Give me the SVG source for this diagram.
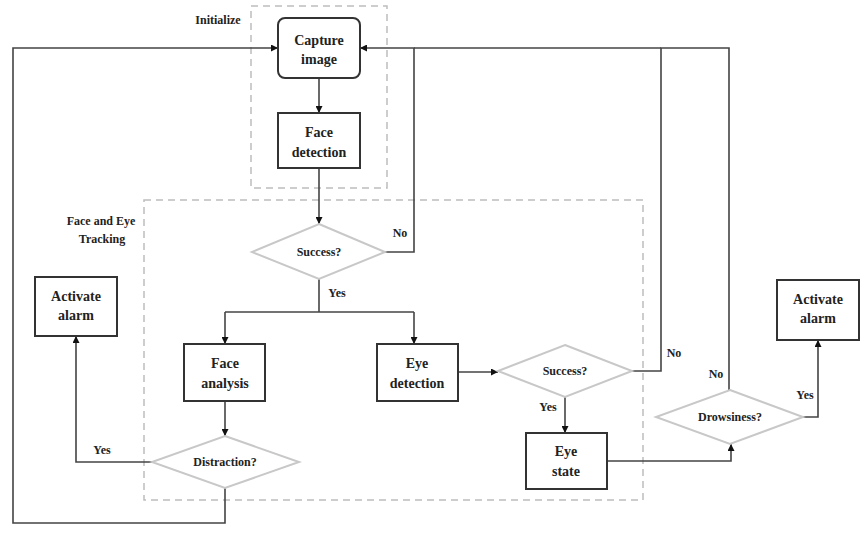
<svg xmlns="http://www.w3.org/2000/svg" width="866" height="538" viewBox="0 0 866 538">
<style>
text{font-family:"Liberation Serif","Times New Roman",serif;font-weight:bold;fill:#222;text-anchor:middle}
.box{fill:#fff;stroke:#333;stroke-width:2}
.dia{fill:#fff;stroke:#c8c8c8;stroke-width:2}
.grp{fill:none;stroke:#bdbdbd;stroke-width:1.5;stroke-dasharray:7,5}
.ln{fill:none;stroke:#444;stroke-width:1.6}
.t14{font-size:14px}
.t12{font-size:12px}
.lab{font-size:12px}
</style>
<defs>
<marker id="ah" viewBox="0 0 10 10" refX="10" refY="5" markerWidth="7" markerHeight="7" markerUnits="userSpaceOnUse" orient="auto">
<path d="M0,0 L10,5 L0,10 z" fill="#111"/>
</marker>
</defs>
<rect width="866" height="538" fill="#fff"/>
<g id="groups">
<rect class="grp" x="251" y="6" width="136" height="182"/>
<text class="lab" x="218" y="24">Initialize</text>
<rect class="grp" x="144" y="200" width="499" height="300"/>
<text class="lab" x="101" y="225">Face and Eye</text>
<text class="lab" x="102" y="243">Tracking</text>
</g>
<g id="connectors">
<path class="ln" d="M319,78 V113" marker-end="url(#ah)"/>
<path class="ln" d="M319,168 V224" marker-end="url(#ah)"/>
<path class="ln" d="M385,252 H414 V48 H360" marker-end="url(#ah)"/>
<path class="ln" d="M319,279 V312"/>
<path class="ln" d="M225,312 H414"/>
<path class="ln" d="M225,312 V344" marker-end="url(#ah)"/>
<path class="ln" d="M414,312 V344" marker-end="url(#ah)"/>
<path class="ln" d="M225,401 V436" marker-end="url(#ah)"/>
<path class="ln" d="M152,462 H76 V336" marker-end="url(#ah)"/>
<path class="ln" d="M225,488 V523 H13 V48 H278" marker-end="url(#ah)"/>
<path class="ln" d="M458,372 H498" marker-end="url(#ah)"/>
<path class="ln" d="M632,371 H661 V48 H729 V390"/>
<path class="ln" d="M661,48 H414"/>
<path class="ln" d="M565,397 V433" marker-end="url(#ah)"/>
<path class="ln" d="M607,461 H731 V444" marker-end="url(#ah)"/>
<path class="ln" d="M803,417 H818 V340" marker-end="url(#ah)"/>
<text class="lab" x="400" y="237">No</text>
<text class="lab" x="337" y="297">Yes</text>
<text class="lab" x="102" y="454">Yes</text>
<text class="lab" x="674" y="357">No</text>
<text class="lab" x="548" y="411">Yes</text>
<text class="lab" x="716" y="378">No</text>
<text class="lab" x="805" y="399">Yes</text>
</g>
<g id="capture">
<rect class="box" x="278" y="18" width="82" height="60" rx="7"/>
<text class="t14" x="319" y="45">Capture</text>
<text class="t14" x="319" y="64">image</text>
</g>
<g id="face-detection">
<rect class="box" x="278" y="113" width="82" height="55"/>
<text class="t14" x="319" y="137">Face</text>
<text class="t14" x="319" y="157">detection</text>
</g>
<g id="success1">
<polygon class="dia" points="319,224 385,252 319,279 252,252"/>
<text class="t12" x="319" y="256">Success?</text>
</g>
<g id="face-analysis">
<rect class="box" x="184" y="344" width="81" height="57"/>
<text class="t14" x="225" y="368">Face</text>
<text class="t14" x="225" y="388">analysis</text>
</g>
<g id="eye-detection">
<rect class="box" x="377" y="344" width="81" height="57"/>
<text class="t14" x="417" y="368">Eye</text>
<text class="t14" x="417" y="388">detection</text>
</g>
<g id="distraction">
<polygon class="dia" points="225,436 299,462 225,488 152,462"/>
<text class="t12" x="225" y="466">Distraction?</text>
</g>
<g id="alarm-left">
<rect class="box" x="35" y="277" width="82" height="59"/>
<text class="t14" x="76" y="301">Activate</text>
<text class="t14" x="76" y="320">alarm</text>
</g>
<g id="success2">
<polygon class="dia" points="565,345 632,371 565,397 498,371"/>
<text class="t12" x="565" y="375">Success?</text>
</g>
<g id="eye-state">
<rect class="box" x="526" y="433" width="81" height="56"/>
<text class="t14" x="566" y="456">Eye</text>
<text class="t14" x="566" y="476">state</text>
</g>
<g id="drowsiness">
<polygon class="dia" points="730,390 803,417 730,444 656,417"/>
<text class="t12" x="730" y="421">Drowsiness?</text>
</g>
<g id="alarm-right">
<rect class="box" x="777" y="280" width="82" height="60"/>
<text class="t14" x="818" y="304">Activate</text>
<text class="t14" x="818" y="323">alarm</text>
</g>
</svg>
